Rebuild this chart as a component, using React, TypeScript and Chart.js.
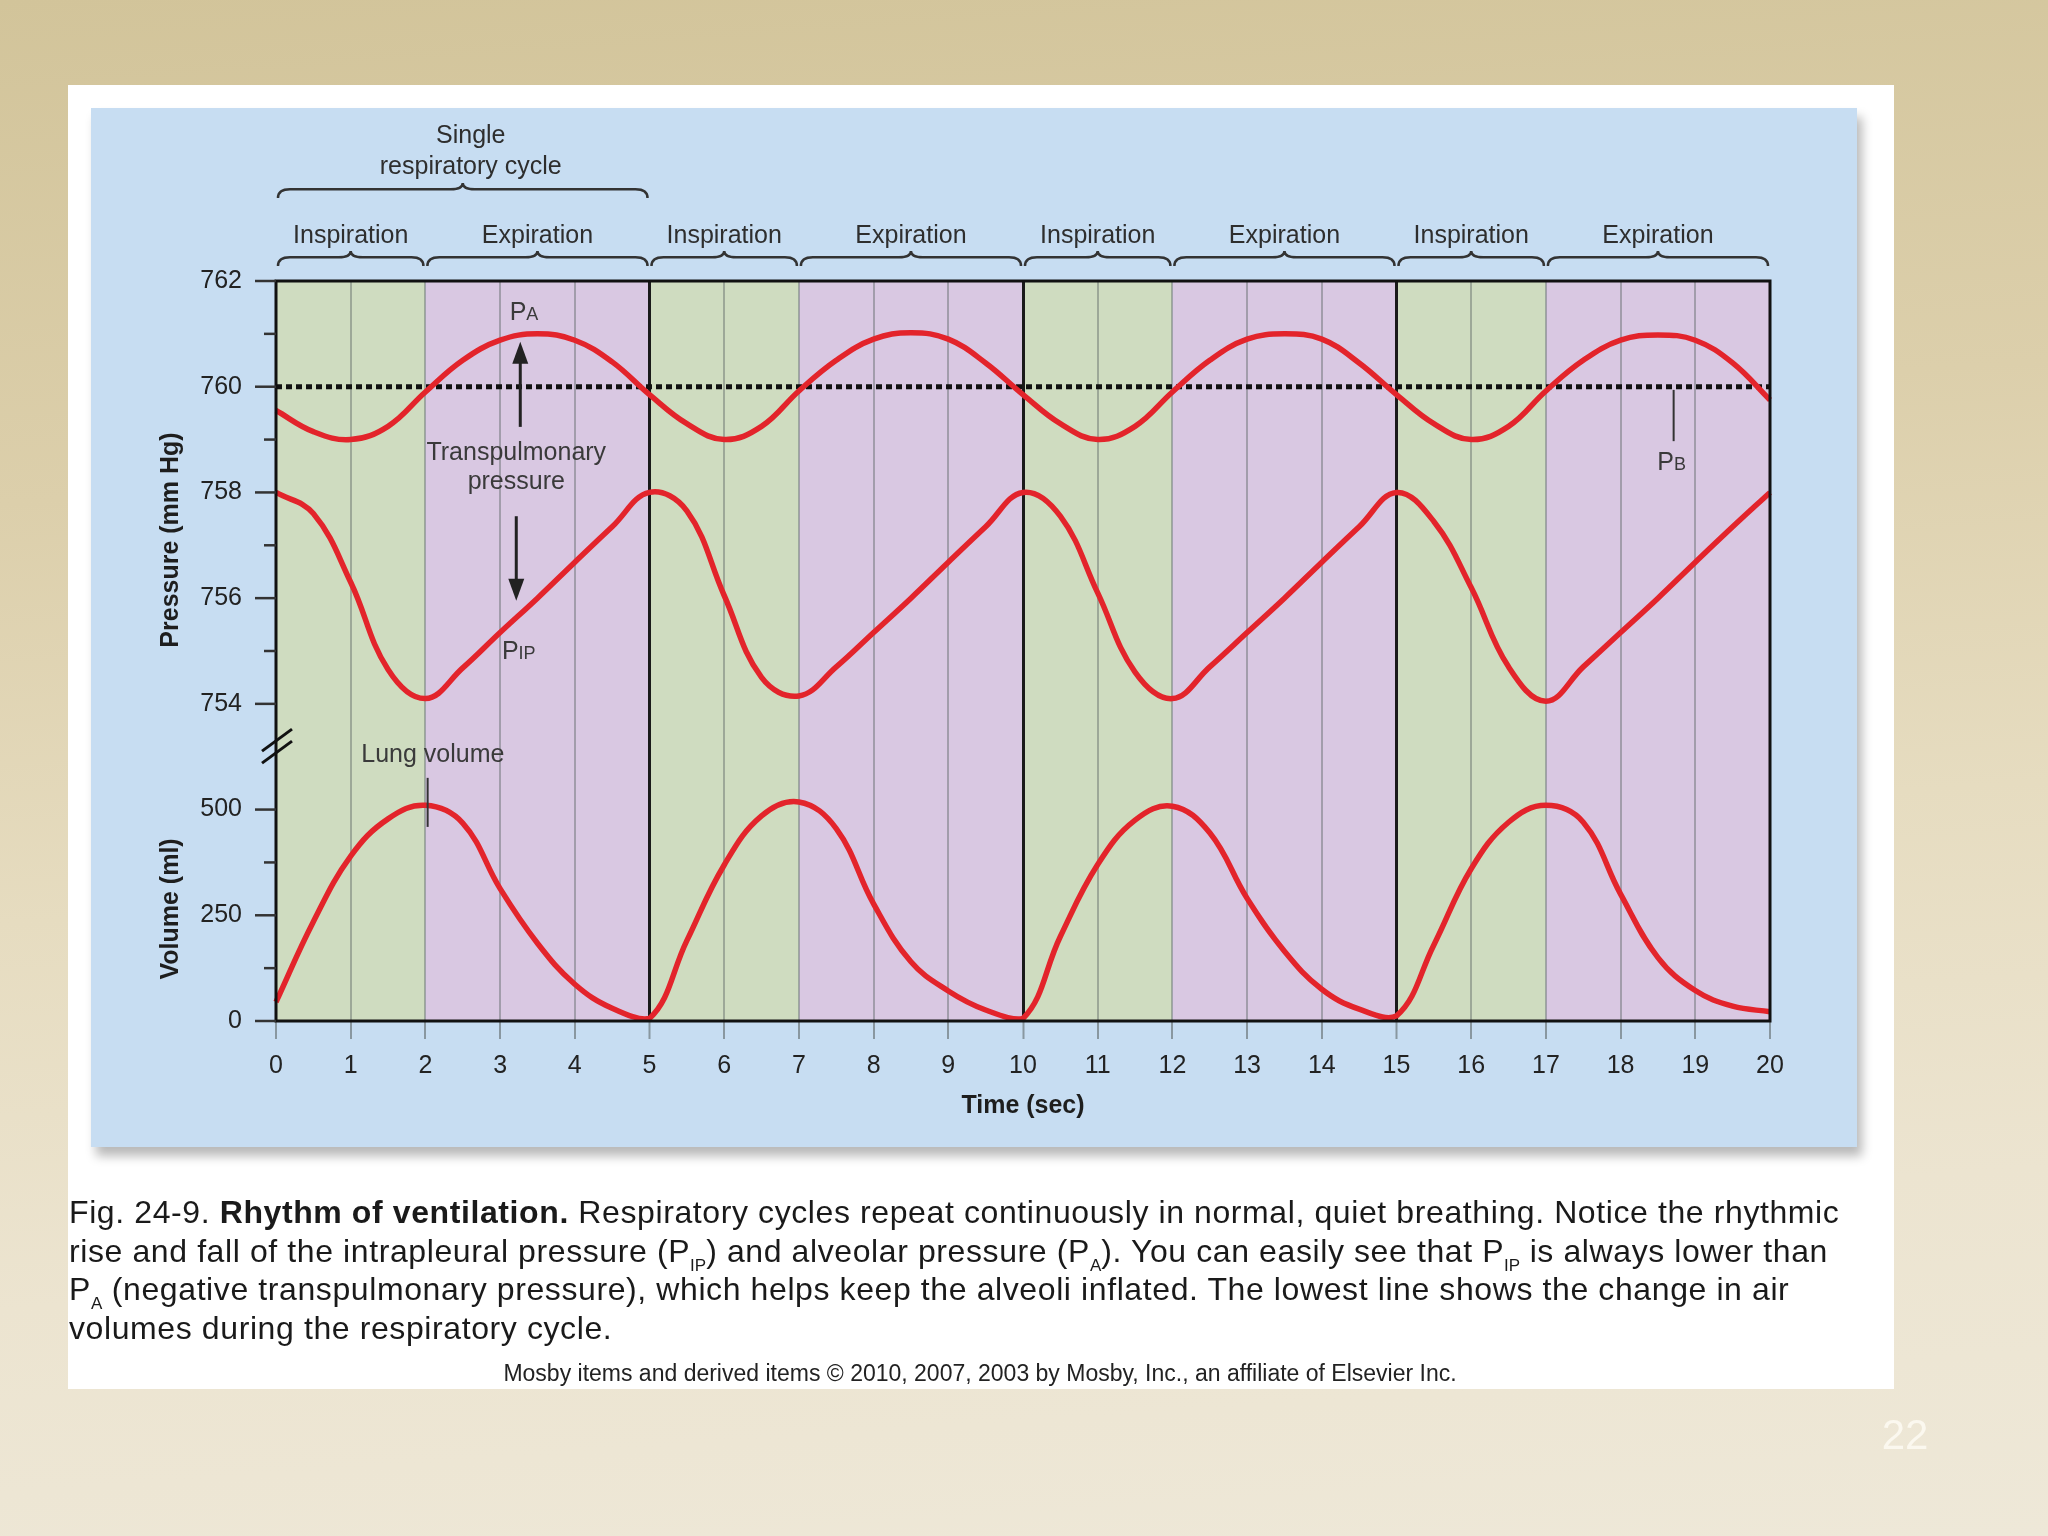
import React, { useEffect, useRef } from 'react';
import { Chart, registerables } from 'chart.js';

Chart.register(...registerables);

// Time axis (seconds)
const timeSec = [
  0, 0.5, 1, 1.5, 2, 2.5, 3, 3.5, 4, 4.5, 5,
  5.5, 6, 6.5, 7, 7.5, 8, 8.5, 9, 9.5, 10,
  10.5, 11, 11.5, 12, 12.5, 13, 13.5, 14, 14.5, 15,
  15.5, 16, 16.5, 17, 17.5, 18, 18.5, 19, 19.5, 20,
];

// Alveolar pressure PA (mm Hg)
const alveolarPressure = [
  759.55, 759.15, 759.0, 759.25, 759.9, 760.5, 760.88, 761.0, 760.88, 760.47, 759.85,
  759.3, 759.0, 759.25, 759.92, 760.5, 760.9, 761.02, 760.9, 760.45, 759.85,
  759.3, 759.0, 759.25, 759.9, 760.5, 760.9, 761.0, 760.9, 760.45, 759.85,
  759.3, 759.0, 759.25, 759.92, 760.5, 760.88, 760.98, 760.88, 760.45, 759.75,
];

// Intrapleural pressure PIP (mm Hg)
const intrapleuralPressure = [
  758.0, 757.6, 756.3, 754.65, 754.1, 754.68, 755.35, 756.0, 756.68, 757.35, 758.0,
  757.65, 756.05, 754.5, 754.15, 754.7, 755.35, 756.0, 756.68, 757.35, 758.0,
  757.55, 756.1, 754.6, 754.1, 754.7, 755.35, 756.0, 756.68, 757.35, 758.0,
  757.45, 756.2, 754.7, 754.05, 754.7, 755.35, 756.0, 756.68, 757.35, 758.0,
];

// Lung volume (ml)
const lungVolume = [
  45, 235, 390, 478, 510, 468, 313, 184, 87, 30, 6,
  190, 369, 485, 518, 455, 277, 140, 71, 26, 6,
  200, 370, 475, 508, 445, 290, 165, 75, 28, 12,
  180, 360, 470, 510, 470, 300, 150, 72, 35, 22,
];

// Barometric pressure PB (mm Hg)
const barometricPressure = 760;

// Breathing phases
const phaseBounds = [0, 2, 5, 7, 10, 12, 15, 17, 20];
const phaseNames = [
  'Inspiration', 'Expiration', 'Inspiration', 'Expiration',
  'Inspiration', 'Expiration', 'Inspiration', 'Expiration',
];
const cycleStarts = [5, 10, 15];

const FONT = '"Liberation Sans", Arial, Helvetica, sans-serif';
const RED = '#e3242b';
const INK = '#2e2e2e';
const GREEN = '#cfdcc0';
const PURPLE = '#d9c8e2';

function drawBrace(ctx: CanvasRenderingContext2D, x1: number, x2: number, tipY: number, h: number) {
  const xm = (x1 + x2) / 2;
  const q = Math.min(12, (x2 - x1) / 8);
  const mid = tipY + h * 0.42;
  const a = x1 + 2;
  const b = x2 - 2;
  ctx.beginPath();
  ctx.moveTo(a, tipY + h);
  ctx.quadraticCurveTo(a, mid, a + q, mid);
  ctx.lineTo(xm - q, mid);
  ctx.quadraticCurveTo(xm, mid, xm, tipY);
  ctx.quadraticCurveTo(xm, mid, xm + q, mid);
  ctx.lineTo(b - q, mid);
  ctx.quadraticCurveTo(b, mid, b, tipY + h);
  ctx.stroke();
}

function drawArrow(ctx: CanvasRenderingContext2D, x: number, y0: number, y1: number) {
  const dir = Math.sign(y1 - y0);
  ctx.beginPath();
  ctx.moveTo(x, y0);
  ctx.lineTo(x, y1 - dir * 16);
  ctx.stroke();
  ctx.beginPath();
  ctx.moveTo(x, y1);
  ctx.lineTo(x - 8, y1 - dir * 22);
  ctx.lineTo(x + 8, y1 - dir * 22);
  ctx.closePath();
  ctx.fill();
}

// "P" with a small-caps subscript label
function drawPLabel(ctx: CanvasRenderingContext2D, sub: string, cx: number, cy: number) {
  ctx.save();
  ctx.textAlign = 'left';
  ctx.textBaseline = 'alphabetic';
  ctx.font = `25px ${FONT}`;
  const wP = ctx.measureText('P').width;
  ctx.font = `18px ${FONT}`;
  const wS = ctx.measureText(sub).width;
  const x0 = cx - (wP + wS) / 2;
  const base = cy + 9;
  ctx.font = `25px ${FONT}`;
  ctx.fillText('P', x0, base);
  ctx.font = `18px ${FONT}`;
  ctx.fillText(sub, x0 + wP, base);
  ctx.restore();
}

const figurePlugin = {
  id: 'respFigure',
  beforeDraw(chart: any) {
    const { ctx, chartArea, scales } = chart;
    const xs = scales.x;
    ctx.save();
    for (let i = 0; i < phaseNames.length; i++) {
      const x1 = xs.getPixelForValue(phaseBounds[i]);
      const x2 = xs.getPixelForValue(phaseBounds[i + 1]);
      ctx.fillStyle = phaseNames[i] === 'Inspiration' ? GREEN : PURPLE;
      ctx.fillRect(x1, chartArea.top, x2 - x1, chartArea.bottom - chartArea.top);
    }
    ctx.restore();
  },
  afterDraw(chart: any) {
    const { ctx, chartArea, scales } = chart;
    const xs = scales.x;
    const yP = scales.yP;
    const yV = scales.yV;
    const { left, right, top, bottom } = chartArea;
    ctx.save();

    // frame
    ctx.strokeStyle = '#111';
    ctx.lineWidth = 3;
    ctx.strokeRect(left, top, right - left, bottom - top);

    // y tick marks
    ctx.strokeStyle = '#333';
    ctx.lineWidth = 2.5;
    yP.ticks.forEach((t: any) => {
      if (t.value < 754) return;
      const len = t.value % 2 === 0 ? 21 : 12;
      const y = yP.getPixelForValue(t.value);
      ctx.beginPath();
      ctx.moveTo(left - len, y);
      ctx.lineTo(left, y);
      ctx.stroke();
    });
    yV.ticks.forEach((t: any) => {
      const len = t.value % 250 === 0 ? 21 : 12;
      const y = yV.getPixelForValue(t.value);
      ctx.beginPath();
      ctx.moveTo(left - len, y);
      ctx.lineTo(left, y);
      ctx.stroke();
    });

    // axis break marks
    const by = yP.getPixelForValue(753.2);
    ctx.strokeStyle = '#111';
    ctx.lineWidth = 3;
    [-6, 6].forEach((d) => {
      ctx.beginPath();
      ctx.moveTo(left - 14, by + d + 11);
      ctx.lineTo(left + 16, by + d - 11);
      ctx.stroke();
    });

    // axis titles
    ctx.fillStyle = '#1e1e1e';
    ctx.font = `bold 25px ${FONT}`;
    ctx.textAlign = 'center';
    ctx.textBaseline = 'middle';
    ctx.fillText('Time (sec)', (left + right) / 2, bottom + 85);
    const titleX = left - 105;
    [['Pressure (mm Hg)', yP.getPixelForValue(757.1)], ['Volume (ml)', yV.getPixelForValue(265)]].forEach(
      ([txt, y]: any) => {
        ctx.save();
        ctx.translate(titleX, y);
        ctx.rotate(-Math.PI / 2);
        ctx.fillText(txt, 0, 0);
        ctx.restore();
      }
    );

    // phase braces and labels
    ctx.strokeStyle = '#333';
    ctx.lineWidth = 2.5;
    ctx.fillStyle = INK;
    ctx.font = `25px ${FONT}`;
    for (let i = 0; i < phaseNames.length; i++) {
      const x1 = xs.getPixelForValue(phaseBounds[i]);
      const x2 = xs.getPixelForValue(phaseBounds[i + 1]);
      drawBrace(ctx, x1, x2, top - 30, 15);
      ctx.fillText(phaseNames[i], (x1 + x2) / 2, top - 45);
    }
    // single cycle brace
    const c1 = xs.getPixelForValue(0);
    const c2 = xs.getPixelForValue(5);
    drawBrace(ctx, c1, c2, top - 98, 15);
    ctx.fillText('Single', (c1 + c2) / 2 + 8, top - 145);
    ctx.fillText('respiratory cycle', (c1 + c2) / 2 + 8, top - 114);

    // transpulmonary pressure annotation
    const ax = xs.getPixelForValue(3.27);
    ctx.fillStyle = '#222';
    ctx.strokeStyle = '#222';
    ctx.lineWidth = 3;
    drawArrow(ctx, ax, yP.getPixelForValue(759.24), yP.getPixelForValue(760.85));
    drawArrow(ctx, ax - 4, yP.getPixelForValue(757.55), yP.getPixelForValue(755.95));
    ctx.fillStyle = '#3a3a3a';
    ctx.font = `25px ${FONT}`;
    ctx.fillText('Transpulmonary', ax - 4, yP.getPixelForValue(758.75));
    ctx.fillText('pressure', ax - 4, yP.getPixelForValue(758.2));

    drawPLabel(ctx, 'A', xs.getPixelForValue(3.32), yP.getPixelForValue(761.43));
    drawPLabel(ctx, 'IP', xs.getPixelForValue(3.25), yP.getPixelForValue(755.02));

    // barometric pressure leader
    const pbx = xs.getPixelForValue(18.71);
    ctx.strokeStyle = '#333';
    ctx.lineWidth = 2;
    ctx.beginPath();
    ctx.moveTo(pbx, yP.getPixelForValue(759.94));
    ctx.lineTo(pbx, yP.getPixelForValue(758.97));
    ctx.stroke();
    drawPLabel(ctx, 'B', pbx - 2, yP.getPixelForValue(758.6));

    // lung volume leader
    const lvx = xs.getPixelForValue(2.03);
    ctx.beginPath();
    ctx.moveTo(lvx, yP.getPixelForValue(752.6));
    ctx.lineTo(lvx, yV.getPixelForValue(459));
    ctx.stroke();
    ctx.fillStyle = '#3a3a3a';
    ctx.fillText('Lung volume', xs.getPixelForValue(2.1), yP.getPixelForValue(753.03));

    ctx.restore();
  },
};

function RespiratoryChart() {
  const canvasRef = useRef<HTMLCanvasElement | null>(null);

  useEffect(() => {
    if (!canvasRef.current) return;
    const pts = (vals: number[]) => timeSec.map((t, i) => ({ x: t, y: vals[i] }));
    const redLine = {
      borderColor: RED,
      borderWidth: 5.5,
      pointRadius: 0,
      fill: false,
      tension: 0.4,
      clip: 20,
    };
    const chart = new Chart(canvasRef.current, {
      type: 'line',
      data: {
        datasets: [
          { label: 'PA', data: pts(alveolarPressure), yAxisID: 'yP', ...redLine },
          { label: 'PIP', data: pts(intrapleuralPressure), yAxisID: 'yP', ...redLine },
          { label: 'Lung volume', data: pts(lungVolume), yAxisID: 'yV', ...redLine },
          {
            label: 'PB',
            data: [
              { x: timeSec[0], y: barometricPressure },
              { x: timeSec[timeSec.length - 1], y: barometricPressure },
            ],
            yAxisID: 'yP',
            borderColor: '#111',
            borderWidth: 5,
            borderDash: [6, 4],
            pointRadius: 0,
            fill: false,
          },
        ],
      },
      options: {
        responsive: false,
        animation: false,
        devicePixelRatio: 1,
        layout: { padding: { left: 156, top: 281, right: 278, bottom: 455 } },
        plugins: { legend: { display: false }, tooltip: { enabled: false } },
        scales: {
          x: {
            type: 'linear',
            min: 0,
            max: 20,
            afterFit: (s: any) => { s.height = 60; },
            border: { display: false },
            grid: {
              color: (c: any) => (cycleStarts.includes(c.tick?.value) ? '#1a1a1a' : 'rgba(95,105,105,0.45)'),
              lineWidth: (c: any) => (cycleStarts.includes(c.tick?.value) ? 3 : 2),
              tickColor: 'rgba(95,105,105,0.6)',
              tickWidth: 2,
              tickLength: 18,
            },
            ticks: {
              stepSize: 1,
              autoSkip: false,
              maxRotation: 0,
              padding: 12,
              color: '#222',
              font: { family: FONT, size: 25 },
            },
          },
          yP: {
            type: 'linear',
            position: 'left',
            stack: 'left',
            stackWeight: 5,
            weight: 1,
            min: 752,
            max: 762,
            afterFit: (s: any) => { s.width = 120; },
            border: { display: false },
            grid: { display: false, drawTicks: false },
            ticks: {
              stepSize: 1,
              autoSkip: false,
              padding: 34,
              color: '#222',
              font: { family: FONT, size: 25 },
              callback: (v: any) => (v >= 754 && v % 2 === 0 ? String(v) : ''),
            },
          },
          yV: {
            type: 'linear',
            position: 'left',
            stack: 'left',
            stackWeight: 2,
            weight: 0,
            min: 0,
            max: 500,
            afterFit: (s: any) => { s.width = 120; },
            border: { display: false },
            grid: { display: false, drawTicks: false },
            ticks: {
              stepSize: 125,
              autoSkip: false,
              padding: 34,
              color: '#222',
              font: { family: FONT, size: 25 },
              callback: (v: any) => (v % 250 === 0 ? String(v) : ''),
            },
          },
        },
      },
      plugins: [figurePlugin],
    });
    return () => chart.destroy();
  }, []);

  return (
    <canvas
      ref={canvasRef}
      width={2048}
      height={1536}
      style={{ position: 'absolute', left: 0, top: 0, width: 2048, height: 1536 }}
    />
  );
}

const subStyle: React.CSSProperties = { fontSize: 17, verticalAlign: -9, lineHeight: 0, letterSpacing: 0 };

export default function App() {
  return (
    <div
      style={{
        position: 'absolute',
        left: 0,
        top: 0,
        width: 2048,
        height: 1536,
        overflow: 'hidden',
        background: 'linear-gradient(176deg, #d2c49a 0%, #dccfab 30%, #e6dcc0 55%, #ece4d0 78%, #eee8d8 100%)',
        fontFamily: FONT,
      }}
    >
      <div style={{ position: 'absolute', left: 68, top: 85, width: 1826, height: 1304, background: '#ffffff' }} />
      <div
        style={{
          position: 'absolute',
          left: 91,
          top: 108,
          width: 1766,
          height: 1039,
          background: '#c7ddf2',
          boxShadow: '5px 9px 10px rgba(0,0,0,0.28)',
        }}
      />
      <RespiratoryChart />
      <div
        style={{
          position: 'absolute',
          left: 69,
          top: 1193,
          width: 1820,
          fontSize: 32,
          letterSpacing: '0.6px',
          lineHeight: '38.5px',
          color: '#1a1a1a',
          whiteSpace: 'nowrap',
        }}
      >
        <div>
          Fig. 24-9. <b>Rhythm of ventilation.</b> Respiratory cycles repeat continuously in normal, quiet breathing. Notice the rhythmic
        </div>
        <div>
          rise and fall of the intrapleural pressure (P<span style={subStyle}>IP</span>) and alveolar pressure (P
          <span style={subStyle}>A</span>). You can easily see that P<span style={subStyle}>IP</span> is always lower than
        </div>
        <div>
          P<span style={subStyle}>A</span> (negative transpulmonary pressure), which helps keep the alveoli inflated. The lowest line shows the change in air
        </div>
        <div>volumes during the respiratory cycle.</div>
      </div>
      <div
        style={{
          position: 'absolute',
          left: 430,
          top: 1360,
          width: 1100,
          textAlign: 'center',
          fontSize: 23,
          lineHeight: '26px',
          color: '#222',
          whiteSpace: 'nowrap',
        }}
      >
        Mosby items and derived items © 2010, 2007, 2003 by Mosby, Inc., an affiliate of Elsevier Inc.
      </div>
      <div
        style={{
          position: 'absolute',
          left: 1870,
          top: 1410,
          width: 70,
          textAlign: 'center',
          fontSize: 42,
          lineHeight: '50px',
          color: '#fbf8ef',
        }}
      >
        22
      </div>
    </div>
  );
}
